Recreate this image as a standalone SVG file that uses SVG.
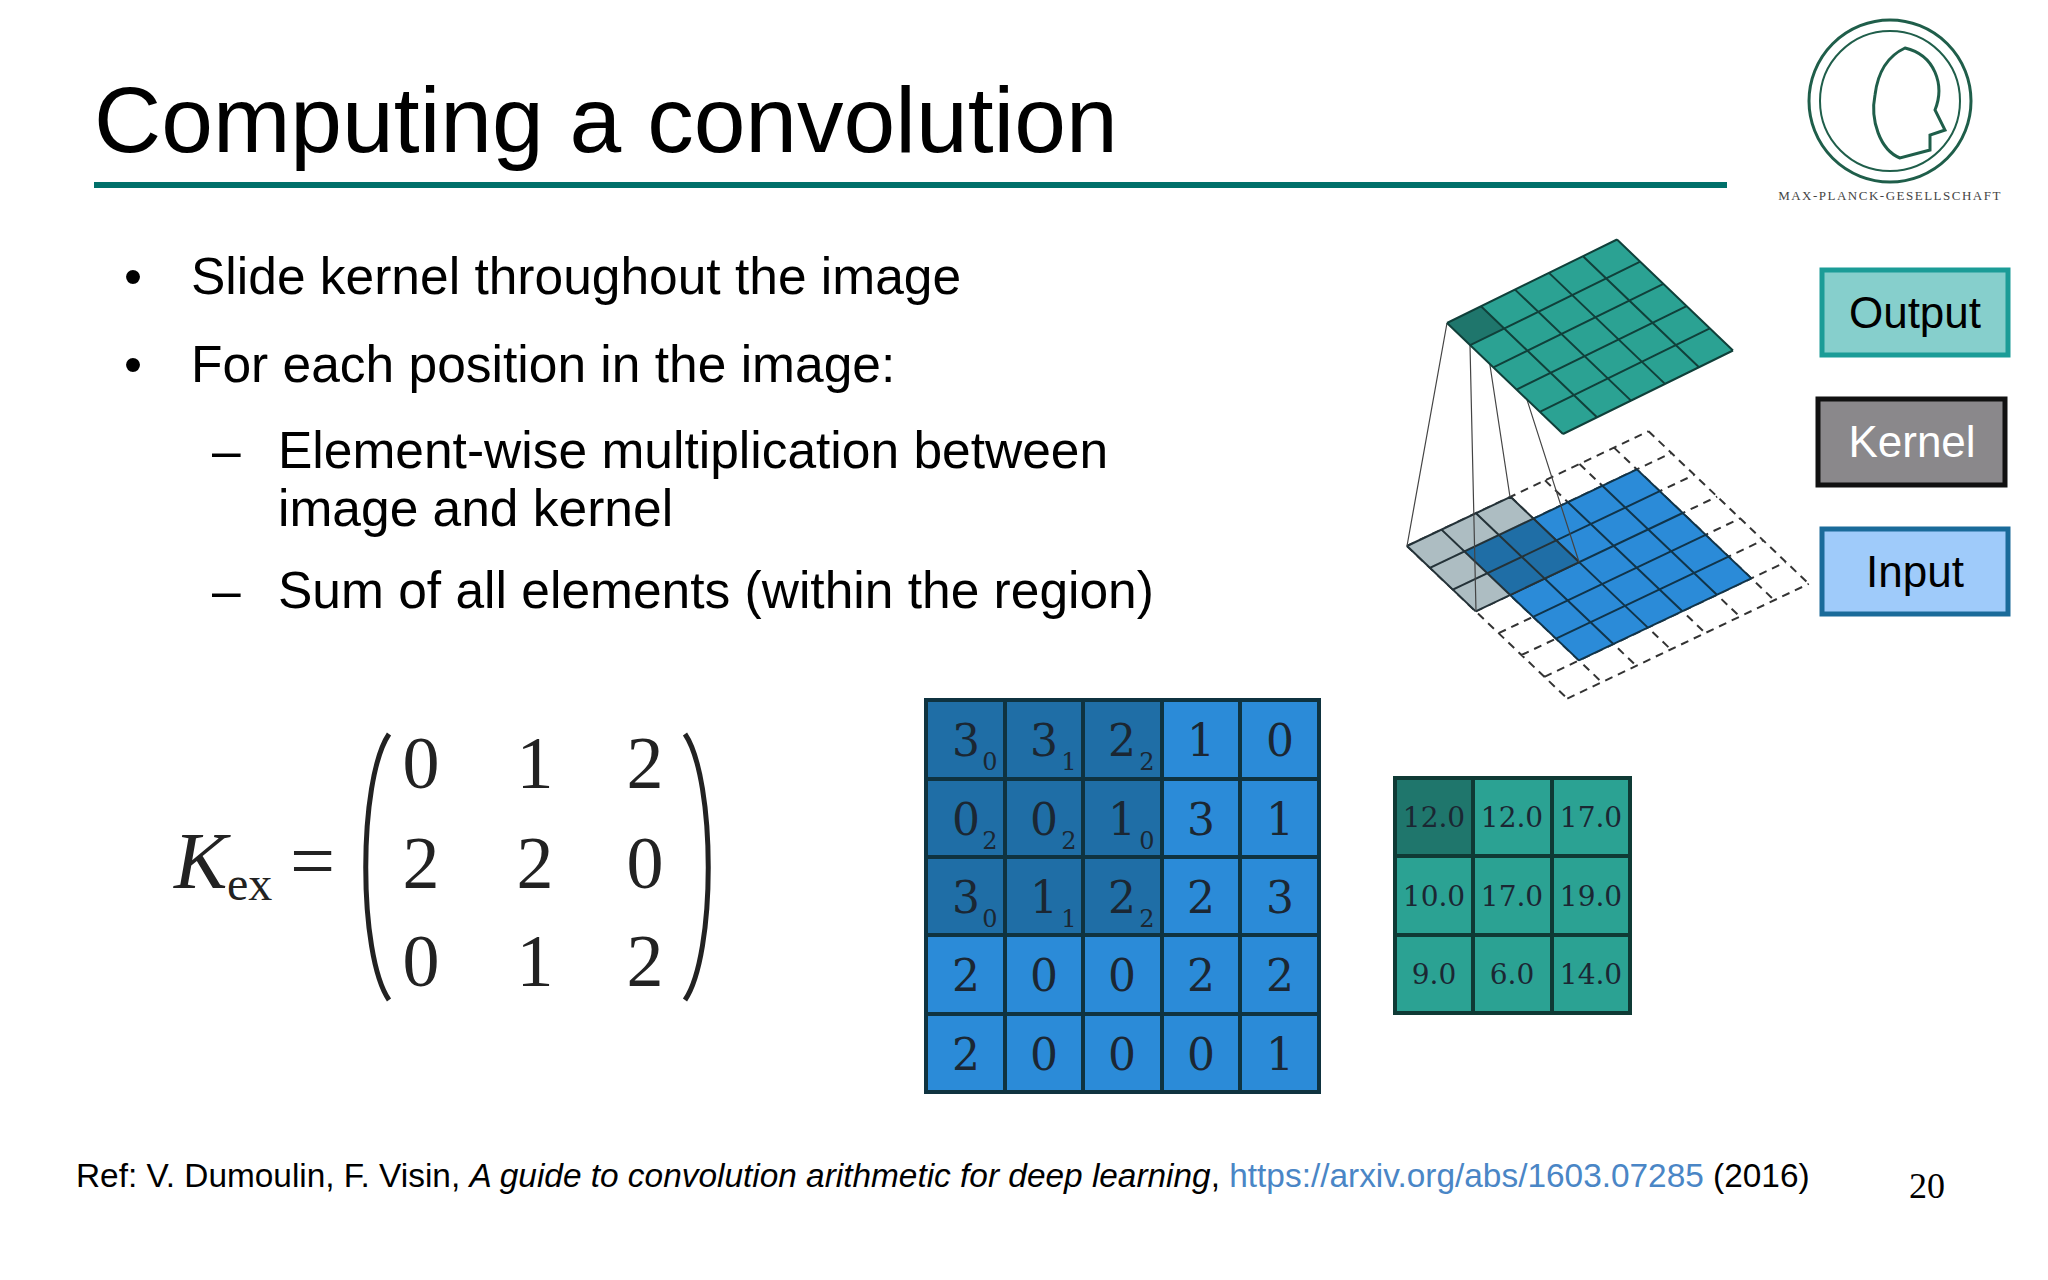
<svg xmlns="http://www.w3.org/2000/svg" width="2048" height="1280" viewBox="0 0 2048 1280">
<style>
.s{font-family:"Liberation Sans",Arial,sans-serif;fill:#000}
.m{font-family:"DejaVu Serif","Liberation Serif",serif;fill:#1b2733}
.g{vector-effect:non-scaling-stroke}
</style>
<rect width="2048" height="1280" fill="#fff"/>
<g id="title"><text class="s" x="94" y="152" font-size="93">Computing a convolution</text>
<rect x="94" y="182" width="1633" height="6" fill="#00706a"/></g>
<g id="logo" fill="none" stroke="#1f5e4a">
<circle cx="1890" cy="101" r="81" stroke-width="3"/><circle cx="1890" cy="101" r="70" stroke-width="2"/>
<path d="M1905 48 C1935 55 1945 85 1935 110 L1945 130 L1930 135 L1930 150 L1900 158 C1880 150 1870 120 1875 95 C1878 70 1890 55 1905 48Z" stroke-width="3"/>
<text x="1890" y="200" font-family="Liberation Serif,serif" font-size="13" fill="#444" stroke="none" text-anchor="middle" letter-spacing="1.5">MAX-PLANCK-GESELLSCHAFT</text></g>
<g id="bullets" class="s" font-size="51.5">
<text x="124" y="294">•</text><text class="s" x="191" y="294">Slide kernel throughout the image</text>
<text x="124" y="382">•</text><text class="s" x="191" y="382">For each position in the image:</text>
<text x="212" y="468">–</text><text class="s" x="278" y="468">Element-wise multiplication between</text>
<text class="s" x="278" y="526">image and kernel</text>
<text x="212" y="608">–</text><text class="s" x="278" y="608">Sum of all elements (within the region)</text>
</g>
<g id="formula" class="m" style="fill:#222">
<text x="174" y="888" font-style="italic" font-family="Liberation Serif,serif" font-size="80">K</text>
<text x="227" y="900" font-family="Liberation Serif,serif" font-size="48">ex</text>
<text x="290" y="888" font-family="Liberation Serif,serif" font-size="80">=</text>
<g text-anchor="middle" font-family="Liberation Serif,serif" font-size="74">
<text x="421" y="788">0</text><text x="535" y="788">1</text><text x="645" y="788">2</text>
<text x="421" y="888">2</text><text x="535" y="888">2</text><text x="645" y="888">0</text>
<text x="421" y="986">0</text><text x="535" y="986">1</text><text x="645" y="986">2</text></g>
<path d="M389 734 C358 780 358 955 389 1000" stroke="#222" stroke-width="5" fill="none"/>
<path d="M685 734 C716 780 716 955 685 1000" stroke="#222" stroke-width="5" fill="none"/>
</g>
<g id="input-grid">
<rect x="926" y="700" width="393" height="392" fill="#2b8bd8"/>
<rect x="926" y="700" width="236" height="235" fill="#1f6ea6"/>
<g stroke="#0f3340" stroke-width="4" fill="none">
<rect x="926" y="700" width="393" height="392"/>
<path d="M1005 700V1092M1083 700V1092M1162 700V1092M1240 700V1092M926 779H1319M926 857H1319M926 935H1319M926 1014H1319"/></g>
<g class="m" font-family="Liberation Serif,serif" font-size="44" text-anchor="middle">
<text x="966" y="756">3</text><text x="1044" y="756">3</text><text x="1122" y="756">2</text><text x="1201" y="756">1</text><text x="1280" y="756">0</text>
<text x="966" y="835">0</text><text x="1044" y="835">0</text><text x="1122" y="835">1</text><text x="1201" y="835">3</text><text x="1280" y="835">1</text>
<text x="966" y="913">3</text><text x="1044" y="913">1</text><text x="1122" y="913">2</text><text x="1201" y="913">2</text><text x="1280" y="913">3</text>
<text x="966" y="991">2</text><text x="1044" y="991">0</text><text x="1122" y="991">0</text><text x="1201" y="991">2</text><text x="1280" y="991">2</text>
<text x="966" y="1070">2</text><text x="1044" y="1070">0</text><text x="1122" y="1070">0</text><text x="1201" y="1070">0</text><text x="1280" y="1070">1</text></g>
<g class="m" font-family="Liberation Serif,serif" font-size="24" text-anchor="middle">
<text x="990" y="770">0</text><text x="1069" y="770">1</text><text x="1147" y="770">2</text>
<text x="990" y="849">2</text><text x="1069" y="849">2</text><text x="1147" y="849">0</text>
<text x="990" y="927">0</text><text x="1069" y="927">1</text><text x="1147" y="927">2</text></g>
</g>
<g id="output-grid">
<rect x="1395" y="778" width="235" height="235" fill="#2ba293"/>
<rect x="1395" y="778" width="78" height="78" fill="#1f766c"/>
<g stroke="#0f3a35" stroke-width="4" fill="none"><rect x="1395" y="778" width="235" height="235"/>
<path d="M1473 778V1013M1552 778V1013M1395 856H1630M1395 935H1630"/></g>
<g class="m" font-family="Liberation Serif,serif" font-size="28" text-anchor="middle">
<text x="1434" y="827">12.0</text><text x="1512" y="827">12.0</text><text x="1591" y="827">17.0</text>
<text x="1434" y="906">10.0</text><text x="1512" y="906">17.0</text><text x="1591" y="906">19.0</text>
<text x="1434" y="984">9.0</text><text x="1512" y="984">6.0</text><text x="1591" y="984">14.0</text></g>
</g>
<g id="anim">
<g transform="matrix(34.5 -16.4 22.9 21.8 1407 546)">
<g fill="none" stroke="#333" stroke-width="2" stroke-dasharray="8 6">
<path class="g" d="M0 0H7M0 1H7M0 2H7M0 3H7M0 4H7M0 5H7M0 6H7M0 7H7M0 0V7M1 0V7M2 0V7M3 0V7M4 0V7M5 0V7M6 0V7M7 0V7"/></g>
<rect x="1" y="1" width="5" height="5" fill="#2b8bd8"/>
<path class="g" d="M1 1H6M1 2H6M1 3H6M1 4H6M1 5H6M1 6H6M1 1V6M2 1V6M3 1V6M4 1V6M5 1V6M6 1V6" stroke="#10344a" stroke-width="2" fill="none"/>
<rect x="0" y="0" width="3" height="3" fill="#9fb2b7" fill-opacity="0.85"/>
<rect x="1" y="1" width="2" height="2" fill="#1f6ea6"/>
<path class="g" d="M0 0H3M0 1H3M0 2H3M0 3H3M0 0V3M1 0V3M2 0V3M3 0V3" stroke="#243238" stroke-width="2" fill="none"/>
</g>
<g stroke="#444" stroke-width="1.2" fill="none">
<path d="M1447 323L1407 546M1470 345L1476 611M1481 306L1510 497M1504 328L1579 562"/></g>
<g transform="matrix(34 -16.7 23.2 22.2 1447 323)">
<rect x="0" y="0" width="5" height="5" fill="#2ba293"/>
<rect x="0" y="0" width="1" height="1" fill="#1f766c"/>
<path class="g" d="M0 0H5M0 1H5M0 2H5M0 3H5M0 4H5M0 5H5M0 0V5M1 0V5M2 0V5M3 0V5M4 0V5M5 0V5" stroke="#10403a" stroke-width="2" fill="none"/>
</g>
</g>
<g id="legend-output"><rect x="1822" y="270" width="186" height="85" fill="#86cfcc" stroke="#1b9c97" stroke-width="5"/>
<text class="s" x="1915" y="328" font-size="44" text-anchor="middle">Output</text></g>
<g id="legend-kernel"><rect x="1818" y="399" width="187" height="86" fill="#8a888b" stroke="#111" stroke-width="5"/>
<text class="s" x="1912" y="457" font-size="44" text-anchor="middle" style="fill:#fff">Kernel</text></g>
<g id="legend-input"><rect x="1822" y="529" width="186" height="85" fill="#9fcbfa" stroke="#1a6b9a" stroke-width="5"/>
<text class="s" x="1915" y="587" font-size="44" text-anchor="middle">Input</text></g>
<g id="footer"><text class="s" x="76" y="1187" font-size="33.4">Ref: V. Dumoulin, F. Visin, <tspan font-style="italic">A guide to convolution arithmetic for deep learning</tspan>, <tspan fill="#4a86c6">https://arxiv.org/abs/1603.07285</tspan> (2016)</text>
<text x="1909" y="1198" font-family="Liberation Serif,serif" font-size="36">20</text></g>
</svg>
